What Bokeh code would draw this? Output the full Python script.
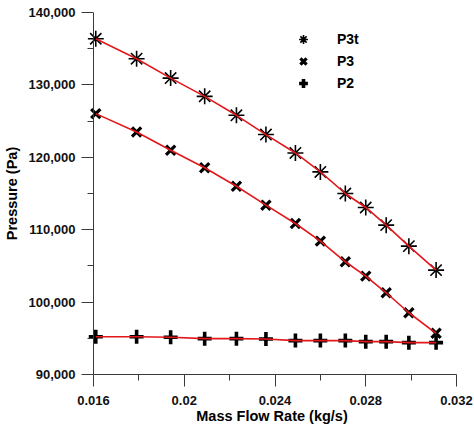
from bokeh.embed import file_html
from bokeh.models import (ColumnDataSource, FixedTicker, Legend, LegendItem,
                          LinearAxis, Range1d, Span)
from bokeh.plotting import figure
from bokeh.resources import INLINE

# Measured pressures against mass flow rate
mass_flow = [0.0161, 0.0179, 0.0194, 0.0209, 0.0223, 0.0236, 0.0249,
             0.0260, 0.0271, 0.0280, 0.0289, 0.0299, 0.0311]
p3t = [136370, 133620, 130940, 128420, 125800, 123140, 120600,
       117980, 115000, 113070, 110630, 107730, 104420]
p3 = [126030, 123490, 120970, 118550, 116000, 113390, 110860,
      108420, 105570, 103590, 101290, 98530, 95690]
p2 = [95220, 95220, 95140, 94950, 94950, 94910, 94680,
      94680, 94680, 94540, 94540, 94400, 94400]

series_names = ["P3t", "P3", "P2"]

x_ticks = [0.016, 0.02, 0.024, 0.028, 0.032]
x_tick_labels = ["0.016", "0.02", "0.024", "0.028", "0.032"]
x_minor = [0.018, 0.022, 0.026, 0.030]
y_ticks = [90000, 100000, 110000, 120000, 130000, 140000]
y_tick_labels = ["90,000", "100,000", "110,000", "120,000", "130,000", "140,000"]
y_minor = [95000, 105000, 115000, 125000, 135000]

FONT = "Liberation Sans"
AXIS_COLOR = "#3a3a3a"
GAP = 6  # px between frame edge and the 0.016 axis line

src = ColumnDataSource(dict(x=mass_flow, p3t=p3t, p3=p3, p2=p2))

# x range starts a little before 0.016 so the first markers are not cut off
x0 = x_ticks[0] - GAP * ((x_ticks[-1] - x_ticks[0]) / 363.0)
p = figure(frame_width=369, frame_height=362,
           min_border_left=84, min_border_right=21,
           min_border_top=12, min_border_bottom=56,
           x_range=Range1d(x0, x_ticks[-1]),
           y_range=Range1d(y_ticks[0], y_ticks[-1]),
           x_axis_type=None, y_axis_type=None,
           output_backend="svg", toolbar_location=None,
           background_fill_color="white", border_fill_color="white")
p.outline_line_color = None


def style_axis(ax):
    ax.axis_line_color = AXIS_COLOR
    ax.axis_line_width = 1
    ax.major_tick_line_color = AXIS_COLOR
    ax.minor_tick_line_color = AXIS_COLOR
    ax.major_label_text_font = FONT
    ax.major_label_text_font_style = "bold"
    ax.major_label_text_font_size = "13px"
    ax.major_label_text_color = "#111111"
    ax.axis_label_text_font = FONT
    ax.axis_label_text_font_style = "bold"
    ax.axis_label_text_font_size = "14.5px"
    ax.axis_label_text_color = "black"


xaxis = LinearAxis(ticker=FixedTicker(ticks=x_ticks, minor_ticks=x_minor),
                   bounds=(x_ticks[0], x_ticks[-1]),
                   axis_label="Mass Flow Rate (kg/s)")
style_axis(xaxis)
xaxis.major_tick_in = 0
xaxis.major_tick_out = 12
xaxis.minor_tick_in = 0
xaxis.minor_tick_out = 6
xaxis.major_label_overrides = dict(zip(x_ticks, x_tick_labels))
xaxis.major_label_standoff = 9
xaxis.axis_label_standoff = 0
p.add_layout(xaxis, "below")

# y axis sits on the frame edge; its ticks reach in to the 0.016 line
yaxis = LinearAxis(ticker=FixedTicker(ticks=y_ticks, minor_ticks=y_minor),
                   axis_label="Pressure (Pa)")
style_axis(yaxis)
yaxis.axis_line_color = None
yaxis.major_tick_in = GAP
yaxis.major_tick_out = 12 - GAP
yaxis.minor_tick_in = GAP
yaxis.minor_tick_out = 0
yaxis.major_label_overrides = dict(zip(y_ticks, y_tick_labels))
yaxis.major_label_standoff = 6
yaxis.axis_label_standoff = 6
p.add_layout(yaxis, "left")

# the y axis line itself, at x = 0.016
p.add_layout(Span(location=x_ticks[0], dimension="height",
                  line_color=AXIS_COLOR, line_width=1))

# markers
r_p3t = p.scatter("x", "p3t", source=src, marker="asterisk", size=16,
                  line_color="black", line_width=1.6)
r_p3 = p.scatter("x", "p3", source=src, marker="x", size=13,
                 line_color="black", line_width=3.2)
r_p2 = p.scatter("x", "p2", source=src, marker="cross", size=14,
                 line_color="black", line_width=3.6)

# red connecting curves
for col in ["p3t", "p3", "p2"]:
    p.line("x", col, source=src, line_color="#e3161b", line_width=1.6)

legend = Legend(items=[LegendItem(label=series_names[0], renderers=[r_p3t]),
                       LegendItem(label=series_names[1], renderers=[r_p3]),
                       LegendItem(label=series_names[2], renderers=[r_p2])],
                location=(205, 280), padding=0, margin=0, spacing=0,
                glyph_width=22, glyph_height=22, label_height=22,
                label_standoff=23,
                label_text_font=FONT, label_text_font_style="bold",
                label_text_font_size="14px", label_text_color="black",
                border_line_color=None, background_fill_alpha=0)
p.add_layout(legend)

open("out.html", "w").write(file_html(p, INLINE))
